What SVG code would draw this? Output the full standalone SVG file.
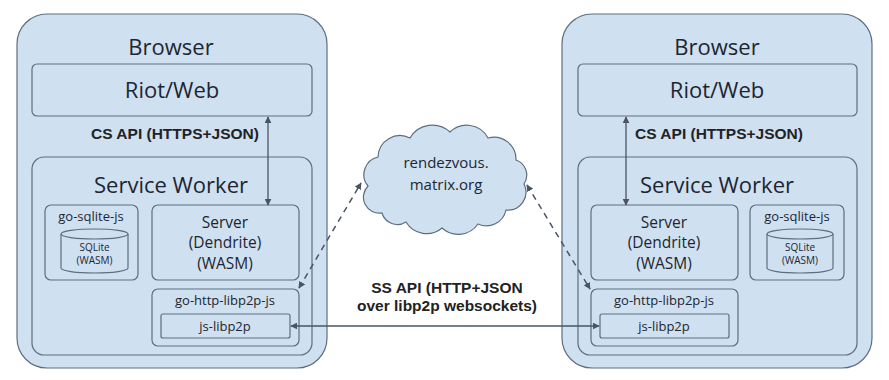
<svg xmlns="http://www.w3.org/2000/svg" width="889" height="380" viewBox="0 0 889 380">
<defs>
<style>
.box{fill:#cfe0f1;stroke:#5f6e7e;stroke-width:1.2}
.t{font-family:"Open Sans","Noto Sans",sans-serif;fill:#1d2630;text-anchor:middle}
.b{font-family:"Liberation Sans",Arial,sans-serif;font-weight:bold;fill:#222;text-anchor:middle}
.ln{stroke:#4a5562;stroke-width:1.3;fill:none}
.dash{stroke:#4a5562;stroke-width:1.5;fill:none;stroke-dasharray:6,5}
</style>
<marker id="ah" viewBox="0 0 10 10" refX="9" refY="5" markerWidth="7" markerHeight="7" orient="auto-start-reverse" markerUnits="userSpaceOnUse">
<path d="M0,0 L10,5 L0,10 z" fill="#4a5562"/>
</marker>
</defs>
<rect width="889" height="380" fill="#ffffff"/>

<g id="browser-left">
<rect class="box" x="17" y="14" width="310" height="354" rx="30"/>
<text class="t" x="171" y="55" font-size="22">Browser</text>
</g>
<g id="riot-left">
<rect class="box" x="32" y="64" width="280" height="52" rx="5"/>
<text class="t" x="172" y="98" font-size="22">Riot/Web</text>
</g>
<g id="sw-left">
<rect class="box" x="32" y="157" width="280" height="198" rx="12"/>
<text class="t" x="171" y="193" font-size="22">Service Worker</text>
</g>
<g id="sqlite-left">
<rect class="box" x="45" y="205" width="93" height="75" rx="6"/>
<text class="t" x="91" y="221" font-size="13">go-sqlite-js</text>
<path class="box" d="M61,234 L61,268 A33.5,5 0 0 0 128,268 L128,234"/>
<ellipse class="box" cx="94.5" cy="234" rx="33.5" ry="5"/>
<text class="t" x="94.5" y="251" font-size="10">SQLite</text>
<text class="t" x="94.5" y="264" font-size="10">(WASM)</text>
</g>
<g id="server-left">
<rect class="box" x="152" y="205" width="147" height="75" rx="6"/>
<text class="t" x="225" y="228" font-size="15.5">Server</text>
<text class="t" x="225" y="248" font-size="15.5">(Dendrite)</text>
<text class="t" x="225" y="269" font-size="15.5">(WASM)</text>
</g>
<g id="gohttp-left">
<rect class="box" x="152" y="289" width="147" height="57" rx="6"/>
<text class="t" x="225" y="305" font-size="13">go-http-libp2p-js</text>
</g>
<g id="jslibp2p-left">
<rect class="box" x="161" y="314" width="129" height="24" rx="2"/>
<text class="t" x="225" y="331" font-size="13">js-libp2p</text>
</g>

<g id="browser-right">
<rect class="box" x="562" y="14" width="310" height="354" rx="30"/>
<text class="t" x="717" y="55" font-size="22">Browser</text>
</g>
<g id="riot-right">
<rect class="box" x="578" y="64" width="279" height="52" rx="5"/>
<text class="t" x="717" y="98" font-size="22">Riot/Web</text>
</g>
<g id="sw-right">
<rect class="box" x="578" y="157" width="279" height="198" rx="12"/>
<text class="t" x="717" y="193" font-size="22">Service Worker</text>
</g>
<g id="server-right">
<rect class="box" x="591" y="205" width="147" height="75" rx="6"/>
<text class="t" x="664" y="228" font-size="15.5">Server</text>
<text class="t" x="664" y="248" font-size="15.5">(Dendrite)</text>
<text class="t" x="664" y="269" font-size="15.5">(WASM)</text>
</g>
<g id="sqlite-right">
<rect class="box" x="750" y="205" width="94" height="75" rx="6"/>
<text class="t" x="797" y="221" font-size="13">go-sqlite-js</text>
<path class="box" d="M767,234 L767,268 A33,5 0 0 0 833,268 L833,234"/>
<ellipse class="box" cx="800" cy="234" rx="33" ry="5"/>
<text class="t" x="800" y="251" font-size="10">SQLite</text>
<text class="t" x="800" y="264" font-size="10">(WASM)</text>
</g>
<g id="gohttp-right">
<rect class="box" x="591" y="289" width="147" height="57" rx="6"/>
<text class="t" x="664" y="305" font-size="13">go-http-libp2p-js</text>
</g>
<g id="jslibp2p-right">
<rect class="box" x="600" y="314" width="129" height="24" rx="2"/>
<text class="t" x="664" y="331" font-size="13">js-libp2p</text>
</g>

<g id="cloud">
<path class="box" d="M382,213 A16,16 0 0 1 368,186 A18,18 0 0 1 378,157 A22,22 0 0 1 410,138 A26,26 0 0 1 450,132 A24,24 0 0 1 488,138 A22,22 0 0 1 516,160 A16,16 0 0 1 524,184 A18,18 0 0 1 506,210 A20,20 0 0 1 478,224 A24,24 0 0 1 442,228 A24,24 0 0 1 406,222 A16,16 0 0 1 382,213 Z"/>
<text class="t" x="446" y="168" font-size="15">rendezvous.</text>
<text class="t" x="446" y="190" font-size="15">matrix.org</text>
</g>

<g id="labels">
<text class="b" x="175" y="139" font-size="15.5">CS API (HTTPS+JSON)</text>
<text class="b" x="719" y="139" font-size="15.5">CS API (HTTPS+JSON)</text>
<text class="b" x="447" y="293" font-size="15.5">SS API (HTTP+JSON</text>
<text class="b" x="447" y="311" font-size="15.5">over libp2p websockets)</text>
</g>

<g id="connectors">
<line class="ln" x1="268" y1="117" x2="268" y2="205" marker-start="url(#ah)" marker-end="url(#ah)"/>
<line class="ln" x1="626" y1="117" x2="626" y2="205" marker-start="url(#ah)" marker-end="url(#ah)"/>
<line class="ln" x1="291" y1="326" x2="599" y2="326" marker-start="url(#ah)" marker-end="url(#ah)"/>
<line class="dash" x1="299" y1="288" x2="361" y2="183" marker-start="url(#ah)" marker-end="url(#ah)"/>
<line class="dash" x1="527" y1="185" x2="590" y2="289" marker-start="url(#ah)" marker-end="url(#ah)"/>
</g>
</svg>
